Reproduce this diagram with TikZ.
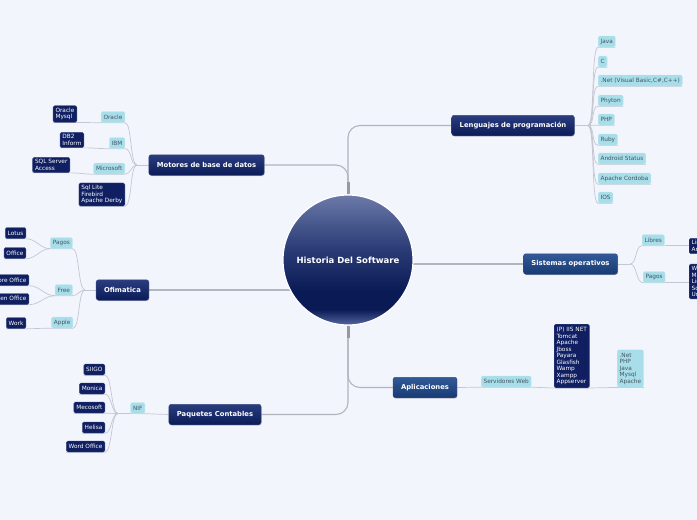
\documentclass[tikz,border=0pt]{standalone}
\usepackage{fontspec}
\setmainfont{DejaVu Sans}
\usetikzlibrary{backgrounds,shadows}
\definecolor{bg}{HTML}{F3F5FD}
\definecolor{linkc}{HTML}{C4C7D2}
\definecolor{trunkc}{HTML}{B2B4BE}
\definecolor{cyanf}{HTML}{A7DEEA}
\definecolor{cyanb}{HTML}{C2E8F0}
\definecolor{cyant}{HTML}{44565F}
\definecolor{darkf}{HTML}{0F1F62}
\definecolor{darkb}{HTML}{3A4A80}
\definecolor{mainTop}{HTML}{2A3D7E}
\definecolor{mainBot}{HTML}{0B1B58}
\definecolor{altTop}{HTML}{325A98}
\definecolor{altBot}{HTML}{173A72}
\definecolor{rootTop}{HTML}{6B7AA8}
\definecolor{rootMid}{HTML}{2C3D78}
\definecolor{rootDark}{HTML}{0A1A55}
\definecolor{rootBot}{HTML}{5565A0}
\pgfdeclareverticalshading{rootshade}{100bp}{color(0bp)=(rootBot); color(25bp)=(rootBot); color(31bp)=(rootDark); color(38bp)=(rootDark); color(55bp)=(rootMid); color(75bp)=(rootTop); color(100bp)=(rootTop)}
\newcommand\rkid[3][7pt]{\draw[link] (#2) to[out=0,in=180,max distance=#1] (#3.south west) -- (#3.south east);}
\newcommand\lkid[3][7pt]{\draw[link] (#2) to[out=180,in=0,max distance=#1] (#3.south east) -- (#3.south west);}
\tikzset{
  rootn/.style={circle, minimum size=130pt, inner sep=0pt, draw=white, line width=1.2pt,
    shading=rootshade, text=white, font=\fontsize{8.5}{10}\selectfont\bfseries},
  mainn/.style={rounded corners=2.5pt, draw=darkb, line width=0.5pt, top color=mainTop, bottom color=mainBot,
    text=white, font=\fontsize{6.8}{8}\selectfont\bfseries, inner xsep=8pt, minimum height=20.5pt,
    drop shadow={opacity=0.25, shadow xshift=0.6pt, shadow yshift=-0.8pt}},
  altn/.style={mainn, top color=altTop, bottom color=altBot},
  cyann/.style={rounded corners=1.5pt, fill=cyanf, draw=cyanb, line width=0.4pt, text=cyant,
    font=\fontsize{5.8}{6.5}\selectfont, inner xsep=2.4pt, inner ysep=1.5pt, minimum height=11pt, align=left},
  darkn/.style={rounded corners=1.5pt, fill=darkf, draw=darkb, line width=0.4pt, text=white,
    font=\fontsize{5.8}{6.5}\selectfont, inner xsep=2.4pt, inner ysep=2.2pt, minimum height=11pt, align=left},
  link/.style={draw=linkc, line width=0.7pt},
  trunk/.style={draw=trunkc, line width=1.1pt, rounded corners=12pt},
}
\begin{document}
\begin{tikzpicture}[x=1pt,y=-1pt]
\useasboundingbox (0,0) rectangle (697,520);
\clip (0,0) rectangle (697,520);

% root
\node[rootn] (root) at (348,260) {Historia Del Software};

% main topics
\node[mainn] (lang) at (513,125.5) {Lenguajes de programación};
\node[mainn] (motor) at (206.5,165) {Motores de base de datos};
\node[altn] (so) at (570.5,264) {Sistemas operativos};
\node[mainn] (ofi) at (122.5,290) {Ofimatica};
\node[altn] (apl) at (425,387.5) {Aplicaciones};
\node[mainn] (paq) at (215,414.5) {Paquetes Contables};

% Lenguajes children
\node[cyann, anchor=west] (java) at (598,41.5) {Java};
\node[cyann, anchor=west] (lc) at (598,61.5) {C};
\node[cyann, anchor=west] (net) at (598,80.5) {.Net (Visual Basic,C\#,C++)};
\node[cyann, anchor=west] (phy) at (598,100.5) {Phyton};
\node[cyann, anchor=west] (php) at (598,119.5) {PHP};
\node[cyann, anchor=west] (ruby) at (598,139.5) {Ruby};
\node[cyann, anchor=west] (andr) at (598,158.5) {Android Status};
\node[cyann, anchor=west] (cord) at (598,178.5) {Apache Cordoba};
\node[cyann, anchor=west] (ios) at (598,197.5) {IOS};
\coordinate (lh) at (588,125.5);

% Motores children
\node[cyann, anchor=east] (orac) at (125,117) {Oracle};
\node[cyann, anchor=east] (ibm) at (125,143) {IBM};
\node[cyann, anchor=east] (msft) at (125,168.5) {Microsoft};
\node[darkn, anchor=east] (sqll) at (125,194.5) {Sql Lite\\Firebird\\Apache Derby};
\node[darkn, anchor=east] (om) at (77,114) {Oracle\\Mysql};
\node[darkn, anchor=east] (db2) at (84,140) {DB2\\Inform};
\node[darkn, anchor=east] (sqls) at (70,165) {SQL Server\\Access};
\coordinate (mh) at (137,165);

% Ofimatica children
\node[cyann, anchor=east] (opag) at (72.5,243) {Pagos};
\node[cyann, anchor=east] (ofree) at (72.5,290) {Free};
\node[cyann, anchor=east] (oapp) at (73,322.5) {Apple};
\node[darkn, anchor=east] (lotus) at (26,233) {Lotus};
\node[darkn, anchor=east] (office) at (26,253) {Office};
\node[darkn, anchor=east] (libre) at (29,280) {Libre Office};
\node[darkn, anchor=east] (open) at (29,299) {Open Office};
\node[darkn, anchor=east] (work) at (26,323) {Work};
\coordinate (oh) at (85,290);

% Paquetes children
\node[cyann, anchor=east] (nif) at (145,408) {NIF};
\node[darkn, anchor=east] (siigo) at (105,369.5) {SIIGO};
\node[darkn, anchor=east] (monica) at (105,388.5) {Monica};
\node[darkn, anchor=east] (meco) at (105,407.5) {Mecosoft};
\node[darkn, anchor=east] (helisa) at (105,427.5) {Helisa};
\node[darkn, anchor=east] (word) at (105,446.5) {Word Office};
\coordinate (ph) at (118,413.5);

% Aplicaciones children
\node[cyann, anchor=west] (serv) at (481,381.5) {Servidores Web};
\node[darkn, anchor=west, inner ysep=3pt] (iis) at (554,356) {(P) IIS NET\\Tomcat\\Apache\\Jboss\\Payara\\Glasfish\\Wamp\\Xampp\\Appserver};
\node[cyann, anchor=west, inner ysep=3pt] (anet) at (617,368.5) {.Net\\PHP\\Java\\Mysql\\Apache};

% Sistemas children
\node[cyann, anchor=west] (libres) at (642,240) {Libres};
\node[cyann, anchor=west] (spag) at (643,277) {Pagos};
\node[darkn, anchor=west] (lin) at (689,246) {Linux\\Android};
\node[darkn, anchor=west] (win) at (689,281.5) {Windows\\MacOS\\Linux Red Hat\\Solaris\\Unix};
\coordinate (sh) at (630,264);

\begin{scope}[on background layer]
  \fill[bg] (0,0) rectangle (697,520);
  % trunks
  \draw[trunk] (root.north) |- (lang.west);
  \draw[trunk] (root.north) |- (motor.east);
  \draw[trunk] (root.south) |- (paq.east);
  \draw[trunk] (root.south) |- (apl.west);
  \draw[trunk] (so.west) -- (so.west -| root.center);
  \draw[trunk] (ofi.east) -- (ofi.east -| root.center);
  \draw[draw=trunkc!85!black, line width=3pt] (root.north) -- ++(0,-12);
  \draw[draw=trunkc!85!black, line width=3pt] (root.south) -- ++(0,12);
  % Lenguajes
  \draw[link] (lang.east) -- (lh);
  \foreach \k in {java,lc,net,phy,php,ruby,andr,cord,ios} {\rkid{lh}{\k}}
  % Motores
  \draw[link] (motor.west) -- (mh);
  \foreach \k in {orac,ibm,msft,sqll} {\lkid{mh}{\k}}
  \lkid[10pt]{orac.south west}{om}
  \lkid[10pt]{ibm.south west}{db2}
  \lkid[10pt]{msft.south west}{sqls}
  % Ofimatica
  \draw[link] (ofi.west) -- (oh);
  \foreach \k in {opag,ofree,oapp} {\lkid{oh}{\k}}
  \lkid[12pt]{opag.south west}{lotus}
  \lkid[12pt]{opag.south west}{office}
  \lkid[12pt]{ofree.south west}{libre}
  \lkid[12pt]{ofree.south west}{open}
  \lkid[12pt]{oapp.south west}{work}
  % Paquetes
  \draw[link] (paq.west) -- (nif.south east) -- (ph);
  \foreach \k in {siigo,monica,meco,helisa,word} {\lkid{ph}{\k}}
  % Aplicaciones
  \draw[link] (apl.east) -- (serv.south west) -- (serv.south east) -- (iis.south west) -- (iis.south east) -- (anet.south west) -- (anet.south east);
  % Sistemas
  \draw[link] (so.east) -- (sh);
  \rkid{sh}{libres}
  \rkid{sh}{spag}
  \draw[link] (libres.south east) -- (libres.south east -| lin.west);
  \draw[link] (spag.south east) -- (spag.south east -| win.west);
\end{scope}
\end{tikzpicture}
\end{document}
